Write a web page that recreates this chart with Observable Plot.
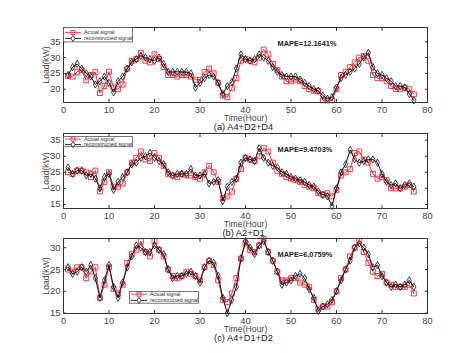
<!DOCTYPE html>
<html><head><meta charset="utf-8">
<script src="https://cdn.jsdelivr.net/npm/d3@7"></script>
<script src="https://cdn.jsdelivr.net/npm/@observablehq/plot@0.6"></script>
<style>
body{margin:0;background:#fff;}
#chart{position:relative;width:474px;height:353px;font-family:"Liberation Sans",Arial,sans-serif;overflow:hidden;}
#chart svg{position:absolute;left:0;background:transparent;overflow:visible;}
</style></head>
<body><div id="chart"></div>
<script>
const hours = [1,2,3,4,5,6,7,8,9,10,11,12,13,14,15,16,17,18,19,20,21,22,23,24,25,26,27,28,29,30,31,32,33,34,35,36,37,38,39,40,41,42,43,44,45,46,47,48,49,50,51,52,53,54,55,56,57,58,59,60,61,62,63,64,65,66,67,68,69,70,71,72,73,74,75,76,77];

const actualA = [24.2,24,25.5,26,22.8,24.5,25.4,18.8,21,25.5,20.5,20,21.5,26.5,29,29.5,31.5,29,28.5,31,29.5,27,24.5,24.5,24,24.5,24.5,24,23,23,25.5,26.5,25,22,18,17.5,20.3,23.5,29,29.5,29,28.5,30,32.5,31,28,26,24,22.5,22.5,23,22.5,21,20,19.5,19.5,16.5,16.5,16.5,20,24.5,25.5,27,28.5,30,30.5,29,24.5,23.5,23.5,22.5,21,20,20,20.5,20,18.4];
const reconA = [24.5,27,28,26.5,25,24,21.5,22.5,24,22,19,22.5,24,26.5,28.5,29.5,30.5,30,29.5,29,30,28,25.5,25.5,25.5,25.5,25.5,25,20.5,22,23.5,24.5,24,22,18.5,21,22.3,26.5,31,29.5,29,29.5,31,30,29,27,25.5,24.5,24,24,24,23,22,21,20,19.5,18,17,17.5,20.5,23.5,24.5,25.5,26.5,28,30,31.5,27,25,24.5,23.5,22.5,21,21,20.5,18.5,16.5];

const actualB = [25,24.5,25.5,25.5,25,23.5,25.5,19,22,25,20.5,20.5,21.5,25,28,29.5,31.5,29,28.5,31,29.5,27,24.5,24,23.5,24.5,24,24,23.5,23,25,27,25,22,17,17.5,19,23,26,29.5,29,28.5,30,32.5,31.5,28,25.5,24.5,23.5,23,22.5,22,21,20.5,20,18.5,18,18.5,17.5,19.5,24,25,26,31,31.5,29,28,24.5,23,23.5,22.5,20,20,20,20.5,21,19];
const reconB = [26.5,24.5,25.5,25.5,24,24.5,23,20,23.5,24.5,19.5,22,23.5,25,27.5,28,29.5,30,31,29.5,28.5,27.5,25,24,24.5,24.5,24.5,26,24,24,24.5,21.5,22,22.5,16,20.5,22,23,28,29.5,29,28.5,32.5,29.5,28,27,26.5,25,24.5,23.5,23,22.5,22,21,20.5,19,18,17.5,14.5,20,25,27.5,32,29,28,28.5,29,29,28,24.5,22,21,21.5,20,21,21.5,20.5];

const actualC = [25,24.5,25.5,25.5,23,24.5,25.5,18.5,21.5,25.5,20.5,19.5,21.5,26.5,28.5,29.5,31.5,29,28,31.5,29.5,28,25,23.5,23,23.5,24.5,24,23.5,22.5,25.5,27,26,22.5,18,17.5,19.5,23,27.5,31,29.5,29,30.5,32,29,27,24.5,22.5,22.5,23,23,22,21.5,21,18,16,16.5,16.5,17.5,20,23,25,28,30,31.5,29,26.5,24.5,23.5,24,22,21.5,21,21,21,21.5,19.5];
const reconC = [25.5,24,24.5,25.5,24.5,26,23,18.5,22.5,26,21,18.5,22,25.5,28,30.5,30,29,29,30.5,29.5,28.5,25,23,23.5,23.5,24,24.5,23.5,22,25.5,27,26.5,23.5,18.5,15,18,21,27.5,31.5,30,28.5,30.5,31.5,29,27,24.5,21.5,22,22.5,23.5,24,23,20.5,18.5,15.5,16.5,17,18,20,22.5,25,27,30,31,30,28.5,25.5,26,23.5,22,21,21.5,21,21.5,22.5,21];

const mapeTexts = ["MAPE=12.1641%","MAPE=9.4703%","MAPE=6.0759%"];
const captions = ["(a) A4+D2+D4","(b) A2+D1","(c) A4+D1+D2"];
const seriesNames = ["Actual signal","reconstructed signal"];
const xTicks = [0,10,20,30,40,50,60,70,80];

const RED = "#ee2a3a", BLACK = "#111";
const panels = [
  {actual: actualA, recon: reconA, yDomain:[15.8,39.5], yTicks:[20,25,30,35], top:0, mape:mapeTexts[0], caption:captions[0],
   legend:{left:63, top:27.3, w:70, h:15.4, y1:5.4, y2:11.4}},
  {actual: actualB, recon: reconB, yDomain:[13.7,37.1], yTicks:[15,20,25,30,35], top:106, mape:mapeTexts[1], caption:captions[1],
   legend:{left:63, top:135.5, w:70, h:11.2, y1:3, y2:8.6}},
  {actual: actualC, recon: reconC, yDomain:[14.9,32.1], yTicks:[15,20,25,30], top:211, mape:mapeTexts[2], caption:captions[2],
   legend:{left:129, top:291, w:70, h:12.7, y1:3.2, y2:9.4}}
];

const chart = document.getElementById("chart");

panels.forEach(p => {
  const actualData = hours.map((h,i) => ({h, v: p.actual[i]}));
  const reconData = hours.map((h,i) => ({h, v: p.recon[i]}));
  const svg = Plot.plot({
    width: 474, height: 130,
    marginLeft: 63, marginRight: 47, marginTop: 27, marginBottom: 28,
    style: {fontFamily: "Liberation Sans, Arial, sans-serif", fontSize: "9px", color: "#444", background: "transparent", overflow: "visible"},
    x: {domain: [0,80]},
    y: {domain: p.yDomain},
    marks: [
      Plot.line(actualData, {x: "h", y: "v", stroke: RED, strokeWidth: 1}),
      Plot.dot(actualData, {x: "h", y: "v", symbol: "square", r: 2.8, stroke: RED, strokeWidth: 0.9, fill: "none"}),
      Plot.line(reconData, {x: "h", y: "v", stroke: BLACK, strokeWidth: 1}),
      Plot.dot(reconData, {x: "h", y: "v", symbol: "diamond", r: 2.2, stroke: BLACK, strokeWidth: 0.8, fill: "none"}),
      Plot.frame({stroke: "#333", strokeWidth: 1}),
      Plot.axisX({ticks: xTicks, tickSize: -3, tickPadding: 6.5, label: null, stroke: "#333", fill: "#444", fontSize: 9.3}),
      Plot.axisX({anchor: "top", ticks: xTicks, tickSize: -3, tickPadding: 6, label: null, tickFormat: () => "", stroke: "#333"}),
      Plot.axisY({ticks: p.yTicks, tickSize: -3, tickPadding: 6, label: null, stroke: "#333", fill: "#444", fontSize: 9.5}),
      Plot.axisY({anchor: "right", ticks: p.yTicks, tickSize: -3, tickPadding: 6, label: null, tickFormat: () => "", stroke: "#333"}),
      Plot.text(["Time(Hour)"], {frameAnchor: "bottom", dy: 16, lineAnchor: "middle", textAnchor: "middle", fontSize: 8.7, fill: "#444"}),
      Plot.text([p.caption], {frameAnchor: "bottom", dx: -2, dy: 24.3, lineAnchor: "middle", textAnchor: "middle", fontSize: 9.3, fill: "#1a1a1a"}),
      Plot.text(["Load(kW)"], {frameAnchor: "left", dx: -17, rotate: -90, textAnchor: "middle", lineAnchor: "middle", fontSize: 8.6, fill: "#444"}),
      Plot.text([p.mape], {frameAnchor: "top-left", dx: 214, dy: 16, textAnchor: "start", lineAnchor: "middle", fontSize: 7.4, fontWeight: "bold", fill: "#222"})
    ]
  });
  svg.style.top = p.top + "px";
  chart.appendChild(svg);

  // legend box
  const L = p.legend;
  const ns = "http://www.w3.org/2000/svg";
  const lg = document.createElementNS(ns, "svg");
  lg.setAttribute("width", L.w); lg.setAttribute("height", L.h);
  lg.style.left = L.left + "px"; lg.style.top = L.top + "px";
  let html = `<rect x="0.5" y="0.5" width="${L.w-1}" height="${L.h-1}" fill="#fff" stroke="#555" stroke-width="0.8"/>`;
  const ys = [L.y1, L.y2];
  ys.forEach((y, k) => {
    const col = k === 0 ? RED : BLACK;
    html += `<line x1="2" x2="18" y1="${y}" y2="${y}" stroke="${col}" stroke-width="0.9"/>`;
    if (k === 0) html += `<rect x="8" y="${y-2}" width="4" height="4" fill="none" stroke="${col}" stroke-width="0.8"/>`;
    else html += `<path d="M10,${y-3}L12,${y}L10,${y+3}L8,${y}Z" fill="#fff" stroke="${col}" stroke-width="0.8"/>`;
    html += `<text x="21" y="${y}" dy="0.35em" font-size="5.4" fill="#333" font-family="Liberation Sans, Arial, sans-serif">${seriesNames[k]}</text>`;
  });
  lg.innerHTML = html;
  chart.appendChild(lg);
});
</script></body></html>
